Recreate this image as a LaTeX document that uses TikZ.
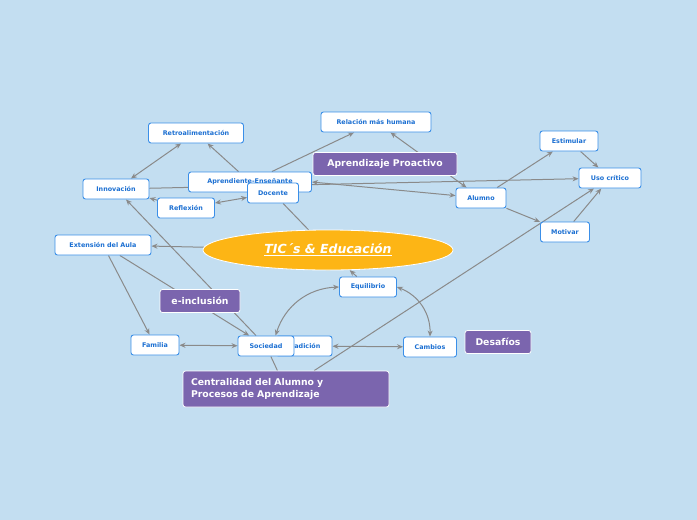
\documentclass[tikz,border=0pt]{standalone}
\usepackage{fontspec}
\setmainfont{DejaVu Sans}
\usetikzlibrary{shapes.geometric,arrows.meta}
\pgfdeclarelayer{bg}\pgfdeclarelayer{edges}
\pgfsetlayers{bg,edges,main}
\definecolor{bgc}{HTML}{C3DEF1}
\definecolor{bord}{HTML}{3B8FE8}
\definecolor{txt}{HTML}{1B6FD2}
\definecolor{purp}{HTML}{7B65AE}
\definecolor{gold}{HTML}{FDB515}
\definecolor{ln}{HTML}{8A8A8A}
\begin{document}
\begin{tikzpicture}[x=1pt,y=-1pt,
 sub/.style={draw=bord,fill=white,rounded corners=2.5pt,line width=0.9pt,text=txt,font=\fontsize{6.4}{7}\selectfont\bfseries,minimum height=20pt,inner sep=1pt},
 main/.style={draw=white,fill=purp,rounded corners=2.5pt,line width=0.8pt,text=white,font=\fontsize{9.3}{10}\selectfont\bfseries,minimum height=23pt,inner sep=1pt},
 e/.style={draw=ln,line width=1pt,-{Stealth[length=6pt,width=5pt]}},
 ee/.style={draw=ln,line width=1pt,{Stealth[length=6pt,width=5pt]}-{Stealth[length=6pt,width=5pt]}},
 pl/.style={draw=ln,line width=1pt}]
\begin{pgfonlayer}{bg}
\fill[bgc] (0,0) rectangle (697,520);
\end{pgfonlayer}
\useasboundingbox (0,0) rectangle (697,520);
\node[sub,minimum width=95pt] (retro) at (196,133) {Retroalimentación};
\node[sub,minimum width=110pt] (rel) at (376,122) {Relación más humana};
\node[sub,minimum width=58pt] (est) at (569,141) {Estimular};
\node[sub,minimum width=62pt] (uso) at (610,178) {Uso crítico};
\node[sub,minimum width=66pt] (inn) at (116,189) {Innovación};
\node[sub,minimum width=123pt] (apr) at (250,182) {Aprendiente-Enseñante};
\node[sub,minimum width=51pt] (doc) at (273,193) {Docente};
\node[sub,minimum width=57pt] (ref) at (186,208) {Reflexión};
\node[sub,minimum width=50pt] (alu) at (481,198) {Alumno};
\node[sub,minimum width=49pt] (mot) at (565,232) {Motivar};
\node[sub,minimum width=96pt] (ext) at (103,245) {Extensión del Aula};
\node[draw=white,fill=gold,ellipse,minimum width=250pt,minimum height=40pt,line width=0.8pt,text=white,font=\fontsize{12.5}{14}\selectfont\bfseries\itshape] (tic) at (328,250) {\underline{TIC´s \& Educación}};
\node[sub,minimum width=57pt] (equ) at (368,287) {Equilibrio};
\node[sub,minimum width=48pt] (fam) at (155,345) {Familia};
\node[sub,minimum width=56pt] (tra) at (304,346) {Tradición};
\node[sub,minimum width=56pt] (soc) at (266,346) {Sociedad};
\node[sub,minimum width=53pt] (cam) at (430,347) {Cambios};
\node[main,minimum width=144pt] (ap) at (385,164) {Aprendizaje Proactivo};
\node[main,minimum width=80pt] (ein) at (200,301) {e-inclusión};
\node[main,minimum width=66pt] (des) at (498,342) {Desafíos};
\node[main,minimum width=206pt,minimum height=36pt,align=left,text width=190pt,font=\fontsize{9.3}{12}\selectfont\bfseries] (cen) at (286,389) {Centralidad del Alumno y\\Procesos de Aprendizaje};
\begin{pgfonlayer}{edges}
\draw[ee] (retro) -- (inn);
\draw[e] (apr) -- (retro);
\draw[e] (inn) -- (uso);
\draw[ee] (ref) -- (doc);
\draw[e] (ref) -- (inn);
\draw[ee] (apr.east) -- (alu);
\draw[e] (apr) -- (rel);
\draw[ee] (rel) -- (alu);
\draw[e] (alu) -- (est);
\draw[e] (est) -- (uso);
\draw[e] (alu) -- (mot);
\draw[e] (mot) -- (uso);
\draw[pl] (doc) -- (tic);
\draw[e] (tic) -- (ext);
\draw[e] (equ) -- (tic);
\draw[ee] (equ.west) to[bend right=35] (tra.north west);
\draw[ee] (equ.east) to[bend left=35] (cam.north);
\draw[ee] (tra) -- (cam);
\draw[ee] (fam) -- (soc);
\draw[e] (ext) -- (fam);
\draw[e] (ext) -- (soc);
\draw[e] (soc) -- (inn);
\draw[e] (cen) -- (uso);
\draw[pl] (cen) -- (soc);
\end{pgfonlayer}
\end{tikzpicture}
\end{document}
